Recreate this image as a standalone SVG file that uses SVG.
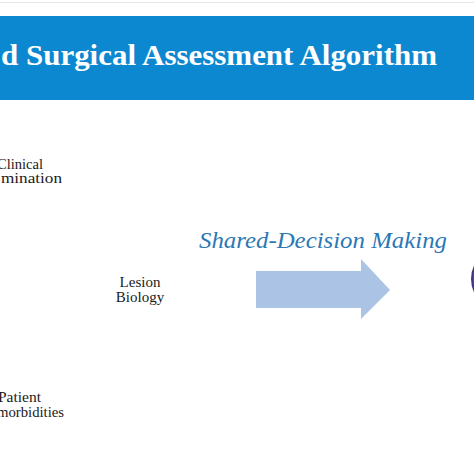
<svg xmlns="http://www.w3.org/2000/svg" width="474" height="474" viewBox="0 0 474 474">
<style>
.lbl{font-family:"Liberation Serif","Times New Roman",serif;font-size:15px;fill:#1a1a1a}
.sm{font-size:14px}
.mid{text-anchor:middle}
.end{text-anchor:end}
.title{font-family:"Liberation Serif","Times New Roman",serif;font-size:29px;font-weight:bold;fill:#ffffff}
.sdm{font-family:"Liberation Serif","Times New Roman",serif;font-size:23px;font-style:italic;fill:#2b78b4}
</style>
<rect x="0" y="0" width="474" height="474" fill="#ffffff"/>
<line x1="0" y1="2.5" x2="474" y2="2.5" stroke="#e6e6e6" stroke-width="1"/>
<g id="header">
<rect x="0" y="16" width="474" height="84" fill="#0c88d1"/>
<text class="title" x="1" y="65" textLength="436" lengthAdjust="spacingAndGlyphs">d Surgical Assessment Algorithm</text>
</g>
<g id="clinical">
<text class="lbl sm end" x="43" y="168.5" textLength="46" lengthAdjust="spacingAndGlyphs">Clinical</text>
<text class="lbl sm end" x="62" y="183" textLength="61" lengthAdjust="spacingAndGlyphs">mination</text>
</g>
<g id="lesion">
<text class="lbl mid" x="140" y="287">Lesion</text>
<text class="lbl mid" x="140" y="302">Biology</text>
</g>
<g id="patient">
<text class="lbl sm end" x="41" y="402" textLength="43" lengthAdjust="spacingAndGlyphs">Patient</text>
<text class="lbl sm end" x="64" y="417" textLength="67" lengthAdjust="spacingAndGlyphs">morbidities</text>
</g>
<g id="connectors">
<text class="sdm" x="199" y="248" textLength="248" lengthAdjust="spacingAndGlyphs">Shared-Decision Making</text>
<path d="M256,271 L361,271 L361,259 L390,290 L361,319 L361,308 L256,308 Z" fill="#abc4e5"/>
</g>
<g id="outcome">
<circle cx="502" cy="279" r="30" fill="#554da0" stroke="#3f3788" stroke-width="2"/>
</g>
</svg>
